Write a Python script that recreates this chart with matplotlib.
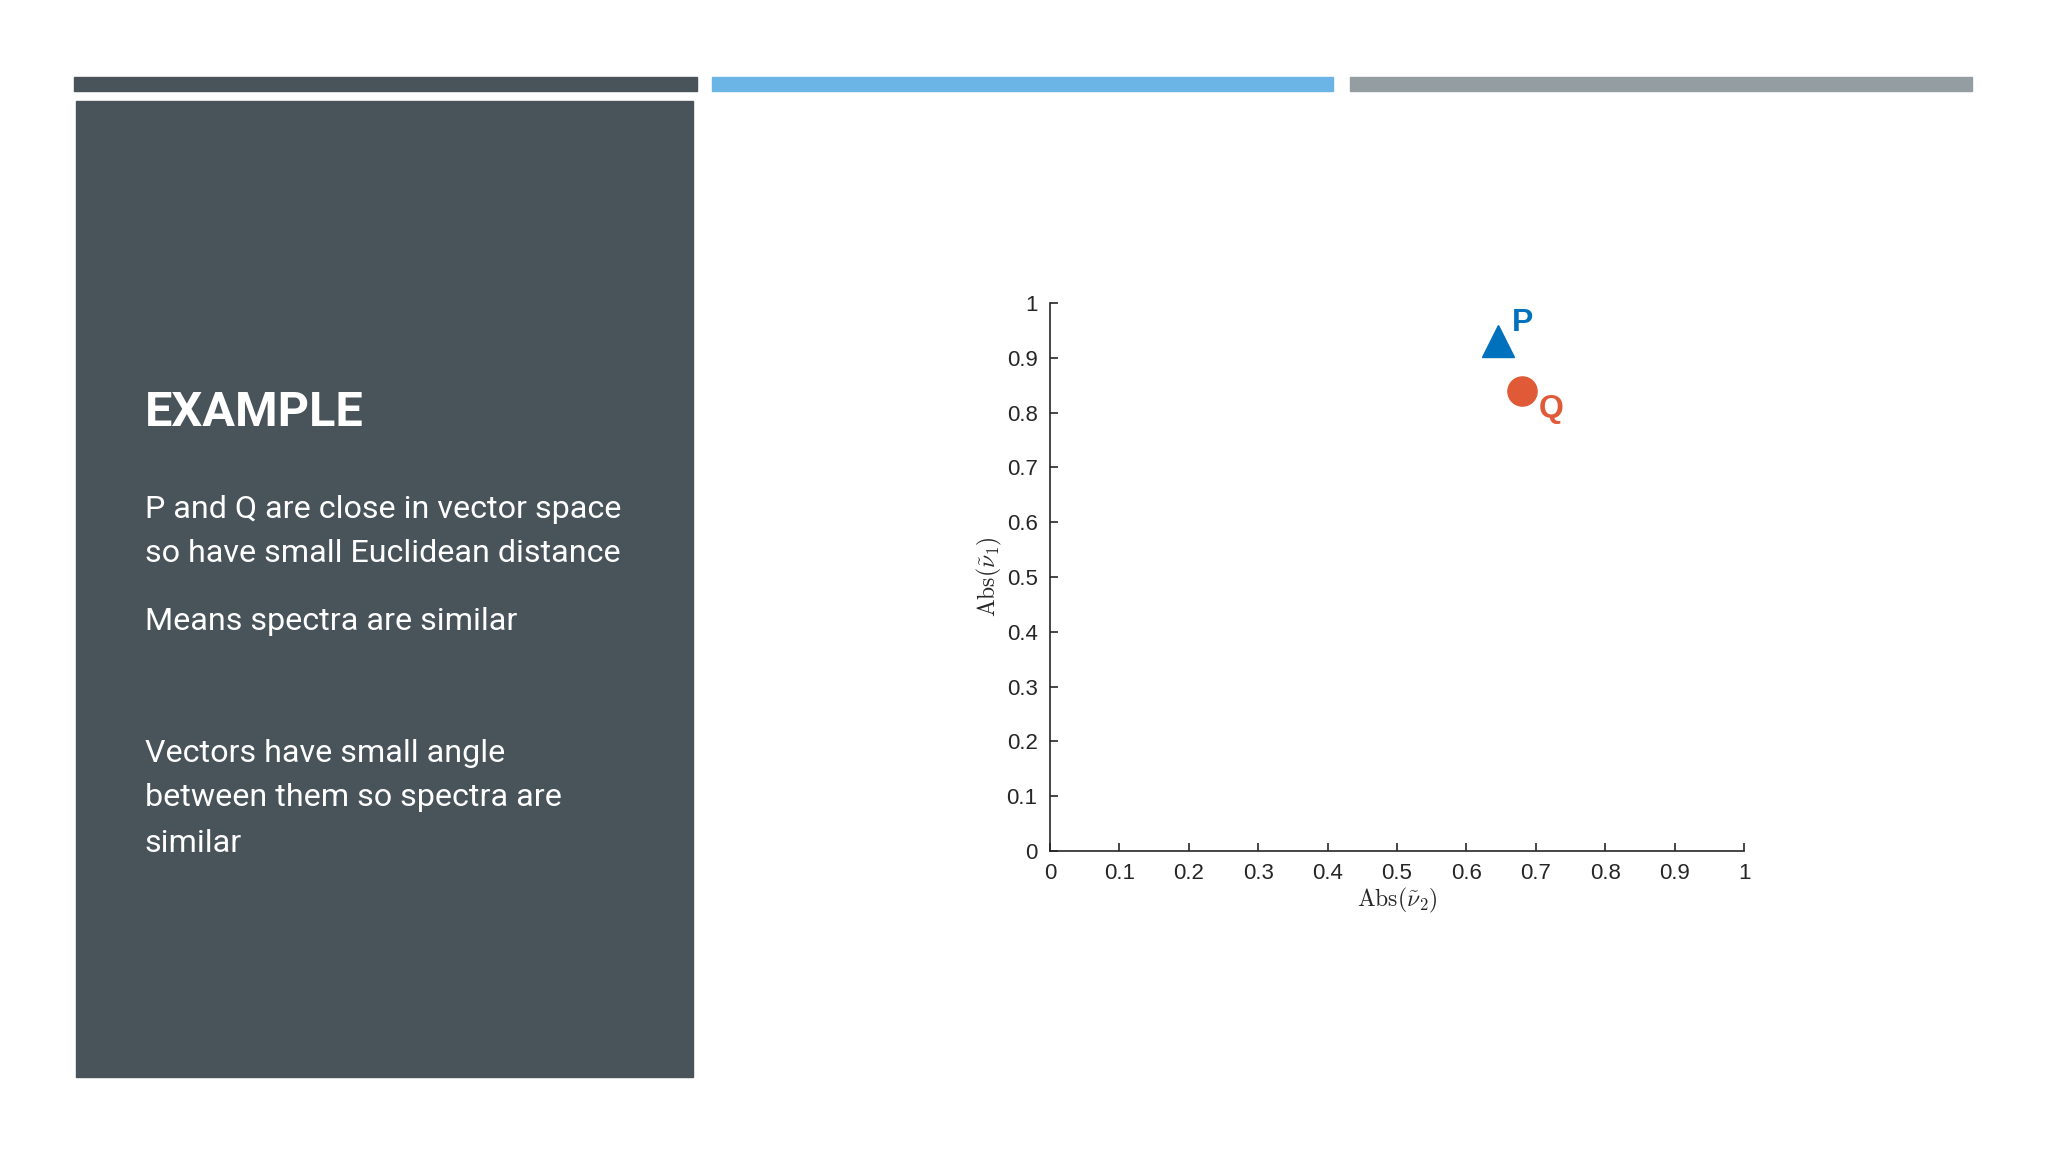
import matplotlib.pyplot as plt
from matplotlib.patches import Rectangle

# Dados dos pontos (espectros P e Q)
labels = ['P', 'Q']
abs_v2 = [0.645, 0.68]
abs_v1 = [0.93, 0.84]
markers = ['^', 'o']
colors = ['#0072BD', '#E05A38']
label_offsets = [(18, 13), (21, -13)]

ticks = [0, 0.1, 0.2, 0.3, 0.4, 0.5, 0.6, 0.7, 0.8, 0.9, 1]
tick_labels = ['0', '0.1', '0.2', '0.3', '0.4', '0.5', '0.6', '0.7', '0.8', '0.9', '1']

title = 'EXAMPLE'
body_lines = ['P and Q are close in vector space',
              'so have small Euclidean distance',
              'Means spectra are similar',
              'Vectors have small angle',
              'between them so spectra are',
              'similar']
body_y = [509, 554, 621, 753, 798, 843]

plt.rcParams['mathtext.fontset'] = 'cm'

fig = plt.figure(figsize=(20.48, 11.52), dpi=100)
fig.patch.set_facecolor('white')

# Fundo do slide em coordenadas de pixel
bg = fig.add_axes([0, 0, 1, 1])
bg.set_xlim(0, 2048)
bg.set_ylim(1152, 0)
bg.axis('off')
bg.add_patch(Rectangle((74, 77), 623, 14, color='#48535A'))
bg.add_patch(Rectangle((712, 77), 621, 14, color='#6BB5E6'))
bg.add_patch(Rectangle((1350, 77), 622, 14, color='#949DA1'))
bg.add_patch(Rectangle((76, 101), 617, 976, color='#48535A'))

bg.text(145, 413, title, color='white', fontsize=35, fontweight='bold',
        family='Roboto', va='center', ha='left')
for txt, y in zip(body_lines, body_y):
    bg.text(145, y, txt, color='white', fontsize=23.2,
            family='Roboto', va='center', ha='left')

# Grafico
ax = fig.add_axes([0.5127, 0.2613, 0.3389, 0.4757])
for lab, x, y, m, c, off in zip(labels, abs_v2, abs_v1, markers, colors, label_offsets):
    ax.plot(x, y, marker=m, color=c, markersize=23 if m == '^' else 21, linestyle='none')
    ax.annotate(lab, (x, y), xytext=off, textcoords='offset points', color=c,
                fontsize=23, fontweight='bold', family='Liberation Sans',
                ha='center', va='center')

ax.set_xlim(0, 1)
ax.set_ylim(0, 1)
ax.set_xticks(ticks)
ax.set_xticklabels(tick_labels)
ax.set_yticks(ticks)
ax.set_yticklabels(tick_labels)
ax.tick_params(direction='in', length=6, width=1.2, labelsize=16, colors='#262626', pad=9)
for t in ax.get_xticklabels() + ax.get_yticklabels():
    t.set_family('Liberation Sans')
ax.spines['top'].set_visible(False)
ax.spines['right'].set_visible(False)
ax.spines['left'].set_color('#262626')
ax.spines['bottom'].set_color('#262626')
ax.spines['left'].set_linewidth(1.2)
ax.spines['bottom'].set_linewidth(1.2)
ax.set_xlabel(r'$\mathrm{Abs}(\tilde{\nu}_2)$', fontsize=17, color='#262626', labelpad=1)
ax.set_ylabel(r'$\mathrm{Abs}(\tilde{\nu}_1)$', fontsize=17, color='#262626', labelpad=2)

fig.savefig('out.png', dpi=100)
